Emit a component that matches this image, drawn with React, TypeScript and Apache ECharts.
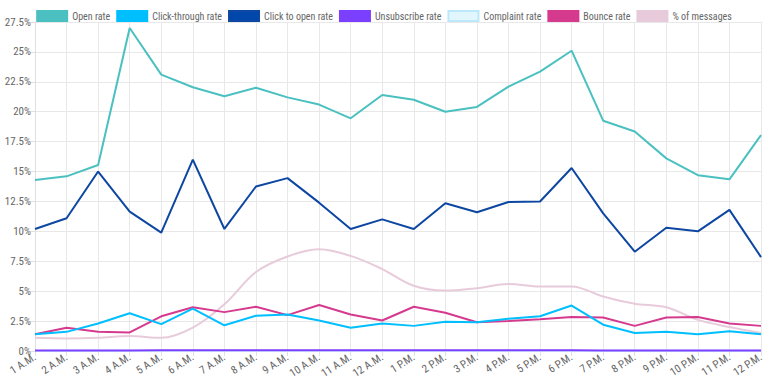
import React, { useEffect, useRef } from "react";
import * as echarts from "echarts";

const categories = [
  "1 A.M.", "2 A.M.", "3 A.M.", "4 A.M.", "5 A.M.", "6 A.M.", "7 A.M.", "8 A.M.",
  "9 A.M.", "10 A.M.", "11 A.M.", "12 A.M.", "1 P.M.", "2 P.M.", "3 P.M.", "4 P.M.",
  "5 P.M.", "6 P.M.", "7 P.M.", "8 P.M.", "9 P.M.", "10 P.M.", "11 P.M.", "12 P.M.",
];

const openRate = [14.3, 14.6, 15.55, 27.0, 23.1, 22.05, 21.3, 22.0, 21.2, 20.6, 19.45, 21.4, 21.0, 20.0, 20.4, 22.1, 23.35, 25.1, 19.25, 18.35, 16.1, 14.7, 14.35, 18.05];
const clickThroughRate = [1.4, 1.6, 2.3, 3.15, 2.25, 3.55, 2.15, 2.95, 3.05, 2.55, 1.95, 2.3, 2.1, 2.45, 2.4, 2.7, 2.9, 3.8, 2.2, 1.5, 1.6, 1.4, 1.65, 1.4];
const clickToOpenRate = [10.2, 11.1, 15.0, 11.65, 9.9, 16.0, 10.2, 13.75, 14.45, 12.4, 10.2, 11.0, 10.2, 12.35, 11.6, 12.45, 12.5, 15.3, 11.5, 8.3, 10.3, 10.0, 11.8, 7.85];
const unsubscribeRate = [0.05, 0.05, 0.05, 0.05, 0.06, 0.06, 0.06, 0.06, 0.06, 0.06, 0.06, 0.06, 0.06, 0.06, 0.06, 0.06, 0.06, 0.06, 0.05, 0.05, 0.05, 0.05, 0.05, 0.05];
const complaintRate = [0.01, 0.01, 0.01, 0.01, 0.01, 0.01, 0.01, 0.01, 0.01, 0.01, 0.01, 0.01, 0.01, 0.01, 0.01, 0.01, 0.01, 0.01, 0.01, 0.01, 0.01, 0.01, 0.01, 0.01];
const bounceRate = [1.4, 1.95, 1.6, 1.55, 2.9, 3.65, 3.25, 3.7, 3.0, 3.85, 3.05, 2.55, 3.7, 3.2, 2.4, 2.5, 2.65, 2.85, 2.8, 2.1, 2.8, 2.85, 2.3, 2.1];
const percentOfMessages = [1.1, 1.05, 1.1, 1.25, 1.1, 1.95, 3.9, 6.6, 7.9, 8.5, 7.95, 6.85, 5.45, 5.05, 5.25, 5.6, 5.4, 5.4, 4.55, 3.95, 3.65, 2.6, 2.0, 1.5];

const yTicks = { min: 0, max: 27.5, interval: 2.5 };

const FONT = "'Liberation Sans Narrow', 'Arial Narrow', 'Roboto Condensed', 'Liberation Sans', Arial, sans-serif";

export default function App() {
  const ref = useRef<HTMLDivElement>(null);

  useEffect(() => {
    if (!ref.current) return;
    const chart = echarts.init(ref.current, null, { renderer: "svg" });

    const mk = (
      name: string,
      data: number[],
      color: string,
      fill: string,
      border: string,
      z: number,
      smooth: boolean | number = false
    ) => ({
      name,
      type: "line",
      data,
      smooth,
      showSymbol: false,
      symbol: "none",
      z,
      lineStyle: { color, width: 2 },
      itemStyle: { color: fill, borderColor: border, borderWidth: 1 },
      emphasis: { disabled: true },
    });

    chart.setOption({
      animation: false,
      textStyle: { fontFamily: FONT },
      legend: {
        top: 5,
        left: "center",
        width: 760,
        itemWidth: 30,
        itemHeight: 10,
        itemGap: 6,
        icon: "rect",
        textStyle: { color: "#666", fontSize: 10, fontFamily: FONT },
      },
      grid: { left: 35, right: 7, top: 22, bottom: 33, containLabel: false },
      xAxis: {
        type: "category",
        data: categories,
        boundaryGap: false,
        axisLine: { show: true, lineStyle: { color: "#e0e0e0" } },
        axisTick: { show: true, length: 5, interval: 0, lineStyle: { color: "#e0e0e0" } },
        splitLine: { show: true, interval: 0, lineStyle: { color: "#e8e8e8" } },
        axisLabel: {
          interval: 0,
          rotate: 33,
          color: "#666",
          fontSize: 11,
          margin: 5,
          fontFamily: FONT,
        },
      },
      yAxis: {
        type: "value",
        min: yTicks.min,
        max: yTicks.max,
        interval: yTicks.interval,
        axisLine: { show: true, lineStyle: { color: "#e0e0e0" } },
        axisTick: { show: true, length: 5, lineStyle: { color: "#e0e0e0" } },
        splitLine: { show: true, lineStyle: { color: "#e8e8e8" } },
        axisLabel: {
          color: "#666",
          fontSize: 11,
          margin: 4,
          fontFamily: FONT,
          formatter: (v: number) => `${v}%`,
        },
      },
      series: [
        mk("Open rate", openRate, "#4BC0C0", "#4BC0C0", "#4BC0C0", 7),
        mk("Click-through rate", clickThroughRate, "#00BFFF", "#00BFFF", "#00BFFF", 6),
        mk("Click to open rate", clickToOpenRate, "#0D47A1", "#0047AB", "#0D47A1", 5),
        mk("Unsubscribe rate", unsubscribeRate, "#7B3FFF", "#7B3FFF", "#7B3FFF", 8),
        mk("Complaint rate", complaintRate, "#D6F2FF", "#E1F6FF", "#BDE8FA", 2),
        mk("Bounce rate", bounceRate, "#D63A8E", "#D63A8E", "#D63A8E", 4),
        mk("% of messages", percentOfMessages, "#E8CBDB", "#E8CBDB", "#E8CBDB", 3, 0.35),
      ],
    });

    return () => chart.dispose();
  }, []);

  return <div ref={ref} style={{ width: 768, height: 384, position: "absolute", left: 0, top: 0 }} />;
}
